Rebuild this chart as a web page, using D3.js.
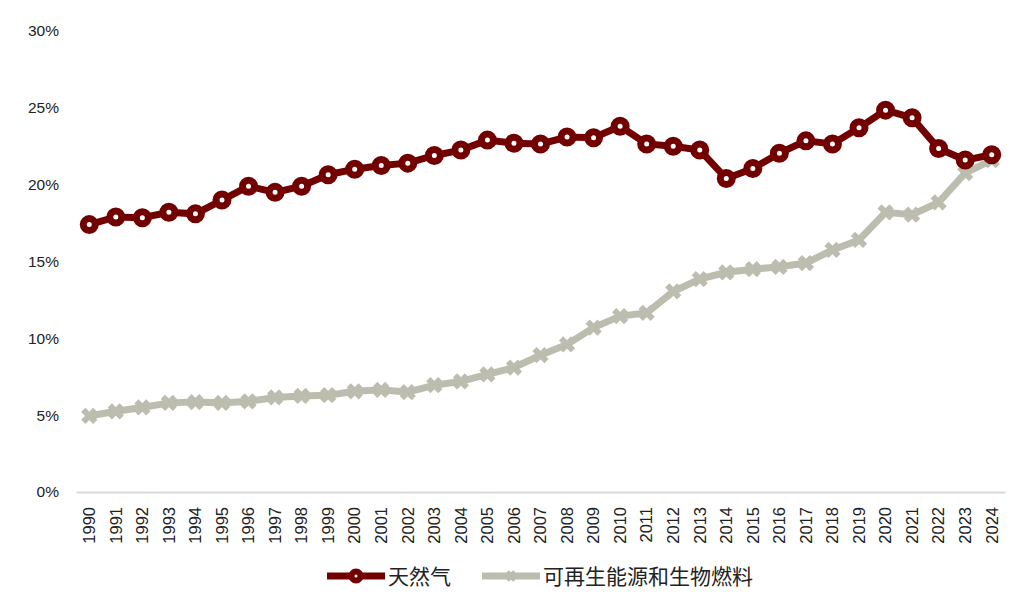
<!DOCTYPE html>
<html>
<head>
<meta charset="utf-8">
<script src="https://cdn.jsdelivr.net/npm/d3@7"></script>
<style>
  body { margin: 0; background: #fff; }
  text { font-family: "Liberation Sans", Arial, "Noto Sans CJK SC", sans-serif; fill: #222; }
</style>
</head>
<body>
<script>
// 数据
const years = d3.range(1990, 2025).map(String);
const gasShare = [17.4, 17.9, 17.85, 18.2, 18.1, 19.0, 19.9, 19.5, 19.9, 20.65,
  21.0, 21.25, 21.4, 21.9, 22.25, 22.9, 22.7, 22.65, 23.1, 23.05,
  23.8, 22.65, 22.5, 22.25, 20.4, 21.05, 22.05, 22.85, 22.65, 23.7,
  24.85, 24.35, 22.35, 21.6, 21.95];
const renewShare = [4.95, 5.25, 5.5, 5.8, 5.85, 5.8, 5.9, 6.15, 6.25, 6.3,
  6.55, 6.65, 6.5, 6.95, 7.2, 7.65, 8.1, 8.9, 9.6, 10.7,
  11.45, 11.65, 13.05, 13.85, 14.3, 14.5, 14.65, 14.9, 15.75, 16.4,
  18.2, 18.05, 18.85, 20.75, 21.6];
const yTicks = [0, 5, 10, 15, 20, 25, 30];
const seriesNames = ['天然气', '可再生能源和生物燃料'];

const width = 1024, height = 599;
const margin = {top: 31, right: 19, bottom: 107, left: 76};
const gasColor = '#720000', renewColor = '#bdbdaf';

const svg = d3.select('body').append('svg')
  .attr('width', width)
  .attr('height', height);

const x = d3.scaleBand()
  .domain(years)
  .range([margin.left, width - margin.right]);
const y = d3.scaleLinear()
  .domain([0, 30])
  .range([height - margin.bottom, margin.top]);

// Y轴
const yAxis = svg.append('g')
  .attr('transform', `translate(${margin.left},0)`)
  .call(d3.axisLeft(y).tickValues(yTicks).tickFormat(d => d + '%').tickSize(0).tickPadding(17));
yAxis.select('.domain').remove();
yAxis.selectAll('text').style('font-size', '15.5px');

// X轴
const xAxis = svg.append('g')
  .attr('transform', `translate(0,${y(0)})`)
  .call(d3.axisBottom(x).tickSize(0));
xAxis.select('.domain').attr('stroke', '#d9d9d9').attr('stroke-width', 2);
xAxis.selectAll('text')
  .style('font-size', '16.5px')
  .attr('text-anchor', 'end')
  .attr('transform', 'rotate(-90)')
  .attr('x', -15)
  .attr('y', 0)
  .attr('dy', '0.35em');

const cx = d => x(d) + x.bandwidth() / 2;
const line = d3.line().x(d => cx(d[0])).y(d => y(d[1]));

const xMark = s => `M${-s},${-s}L${s},${s}M${-s},${s}L${s},${-s}`;

// 可再生能源
const renewData = years.map((d, i) => [d, renewShare[i]]);
svg.append('path')
  .datum(renewData)
  .attr('fill', 'none')
  .attr('stroke', renewColor)
  .attr('stroke-width', 7)
  .attr('d', line);
svg.append('g').selectAll('path')
  .data(renewData)
  .enter()
  .append('path')
  .attr('transform', d => `translate(${cx(d[0])},${y(d[1])})`)
  .attr('d', xMark(6))
  .attr('stroke', renewColor)
  .attr('stroke-width', 6);

// 天然气
const gasData = years.map((d, i) => [d, gasShare[i]]);
svg.append('path')
  .datum(gasData)
  .attr('fill', 'none')
  .attr('stroke', gasColor)
  .attr('stroke-width', 7)
  .attr('d', line);
svg.append('g').selectAll('circle')
  .data(gasData)
  .enter()
  .append('circle')
  .attr('cx', d => cx(d[0]))
  .attr('cy', d => y(d[1]))
  .attr('r', 6)
  .attr('fill', '#fff')
  .attr('stroke', gasColor)
  .attr('stroke-width', 7);

// 图例
const legend = svg.append('g').attr('transform', 'translate(0,576)');
const items = [
  {name: seriesNames[0], color: gasColor, x0: 327},
  {name: seriesNames[1], color: renewColor, x0: 482}
];
items.forEach((it, i) => {
  const g = legend.append('g').attr('transform', `translate(${it.x0},0)`);
  g.append('line')
    .attr('x1', 0).attr('x2', 58)
    .attr('stroke', it.color)
    .attr('stroke-width', 7);
  if (i === 0) {
    g.append('circle').attr('cx', 29).attr('r', 4.5)
      .attr('fill', '#fff').attr('stroke', it.color).attr('stroke-width', 6);
  } else {
    g.append('path').attr('transform', 'translate(29,0)').attr('d', xMark(4))
      .attr('stroke', it.color).attr('stroke-width', 5);
  }
  g.append('text')
    .attr('x', 61)
    .attr('dy', '0.36em')
    .style('font-size', '21px')
    .text(it.name);
});
</script>
</body>
</html>
